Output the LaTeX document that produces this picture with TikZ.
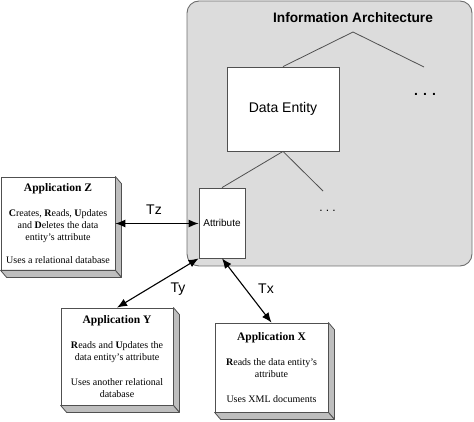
\documentclass[tikz,border=0pt]{standalone}
\usepackage{fontspec}
\setmainfont{Liberation Serif}
\setsansfont{Liberation Sans}
\usetikzlibrary{arrows.meta}
\definecolor{areafill}{HTML}{DCDCDC}
\definecolor{areadraw}{HTML}{6E6E6E}
\definecolor{sidefill}{HTML}{BEBEBE}
\definecolor{edgecol}{HTML}{505050}
\tikzset{
  area/.style={fill=areafill, draw=areadraw, line width=0.9pt, rounded corners=12pt},
  whitebox/.style={draw=edgecol, fill=white, line width=0.8pt, inner sep=0pt},
  appbox/.style={draw=edgecol, fill=white, line width=0.8pt, inner sep=0pt, align=center,
    font=\fontsize{10}{12}\selectfont},
  sideface/.style={fill=sidefill, draw=edgecol, line width=0.8pt, line join=round},
  treeline/.style={draw=edgecol, line width=0.8pt},
  link/.style={line width=1.1pt, {Latex[length=10pt,width=8pt]}-{Latex[length=10pt,width=8pt]}},
  tlabel/.style={font=\sffamily\fontsize{14}{16}\selectfont}
}
\newcommand\apptitle[1]{{\fontsize{11.5}{12}\selectfont\bfseries #1}}
\newcommand\boxsides[1]{%
  \filldraw[sideface] (#1.north east) -- ++(6,7) -- ([shift={(6,7)}]#1.south east) -- (#1.south east) -- cycle;
  \filldraw[sideface] (#1.south west) -- ++(6,7) -- ([shift={(6,7)}]#1.south east) -- (#1.south east) -- cycle;}
\begin{document}
\begin{tikzpicture}[x=1pt,y=-1pt]
\path[use as bounding box] (0,0) rectangle (474,422);
% information architecture area
\path[area] (187,1) rectangle (472,266);
\node[font=\sffamily\bfseries\fontsize{13.7}{16}\selectfont] (title) at (353,18) {Information Architecture};
\coordinate (apex) at (353,32);
\coordinate (rightleaf) at (424,67);
\node[whitebox, minimum width=112pt, minimum height=84pt, font=\sffamily\fontsize{14}{16}\selectfont] (DE) at (283,109) {Data Entity};
\node[font=\sffamily\bfseries\fontsize{14}{16}\selectfont] (dots1) at (425,94) {.\hspace{5.1pt}.\hspace{5.1pt}.};
\node[whitebox, minimum width=46pt, minimum height=70pt, font=\sffamily\fontsize{10}{12}\selectfont] (A) at (222,223) {Attribute};
\coordinate (leaf2) at (323,191);
\node[font=\sffamily\fontsize{12}{14}\selectfont] (dots2) at (327.5,211) {.\hspace{3.2pt}.\hspace{3.2pt}.};
\draw[treeline] (DE.north) -- (apex) -- (rightleaf);
\draw[treeline] (A.north) -- (DE.south) -- (leaf2);
% application Z
\node[appbox, minimum width=114pt, minimum height=93pt] (Z) at (58,223.5) {%
  \apptitle{Application Z}\\[13pt]
  \textbf{C}reates, \textbf{R}eads, \textbf{U}pdates\\
  and \textbf{D}eletes the data\\
  entity’s attribute\\[11pt]
  Uses a relational database};
\boxsides{Z}
% application Y
\node[appbox, minimum width=112pt, minimum height=97pt] (Y) at (117,356.5) {%
  \apptitle{Application Y}\\[13pt]
  \textbf{R}eads and \textbf{U}pdates the\\
  data entity’s attribute\\[13pt]
  Uses another relational\\
  database};
\boxsides{Y}
% application X
\node[appbox, minimum width=113pt, minimum height=89pt] (X) at (271.5,367.5) {%
  \apptitle{Application X}\\[13pt]
  \textbf{R}eads the data entity’s\\
  attribute\\[13pt]
  Uses XML documents};
\boxsides{X}
% links
\draw[link] (Z.east) -- (Z.east -| A.west);
\draw[link] (Y.north) -- (A.south west);
\draw[link] (A.south) -- (X.north);
\node[tlabel] (tz) at (154,210) {Tz};
\node[tlabel] (ty) at (178,289) {Ty};
\node[tlabel] (tx) at (266,289) {Tx};
\end{tikzpicture}
\end{document}
